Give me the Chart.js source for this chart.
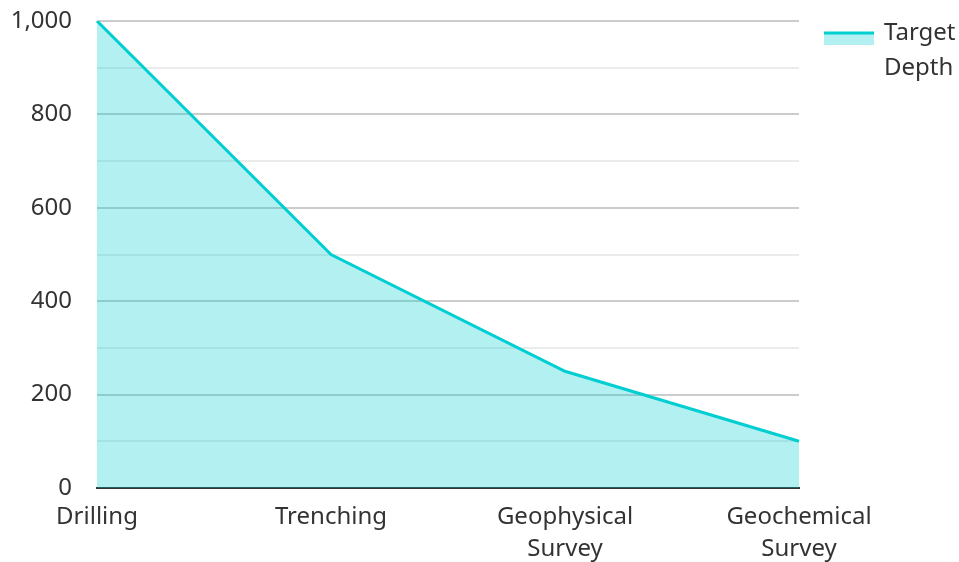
<!DOCTYPE html>
<html>
<head>
<meta charset="utf-8">
<script src="https://cdn.jsdelivr.net/npm/chart.js@4"></script>
<style>
  html, body { margin: 0; padding: 0; background: #fff; }
  #wrap { width: 959px; height: 562px; }
</style>
</head>
<body>
<div id="wrap"><canvas id="myChart"></canvas></div>
<script>
var categories = [['Drilling'], ['Trenching'], ['Geophysical', 'Survey'], ['Geochemical', 'Survey']];
var targetDepth = [1000, 500, 250, 100];
var seriesName = ['Target', 'Depth'];

var lineColor = '#00CED1';
var fillColor = 'rgba(0, 206, 209, 0.3)';
var fontFamily = '"Noto Sans", "Open Sans", sans-serif';

// legend drawn by hand so the label can wrap over two lines
var sideLegend = {
    id: 'sideLegend',
    afterDraw: function (chart) {
        var c = chart.ctx;
        var x = chart.chartArea.right + 25;
        var y = 33;
        c.save();
        c.fillStyle = fillColor;
        c.fillRect(x, y, 50, 12);
        c.strokeStyle = lineColor;
        c.lineWidth = 3;
        c.beginPath();
        c.moveTo(x, y);
        c.lineTo(x + 50, y);
        c.stroke();
        c.fillStyle = '#333';
        c.font = '24px ' + fontFamily;
        c.textBaseline = 'middle';
        seriesName.forEach(function (t, i) {
            c.fillText(t, x + 60, y + i * 35);
        });
        c.restore();
    }
};

var ctx = document.getElementById('myChart').getContext('2d');
var myChart = new Chart(ctx, {
    type: 'line',
    data: {
        labels: categories,
        datasets: [{
            label: seriesName.join(' '),
            data: targetDepth,
            borderColor: lineColor,
            backgroundColor: fillColor,
            borderWidth: 3,
            fill: 'origin',
            tension: 0,
            pointRadius: 0
        }]
    },
    options: {
        responsive: true,
        maintainAspectRatio: false,
        animation: false,
        layout: {
            autoPadding: false,
            padding: { top: 21, right: 160, left: 8, bottom: 0 }
        },
        plugins: {
            legend: { display: false },
            tooltip: { enabled: false }
        },
        scales: {
            x: {
                grid: { display: false },
                border: { display: true, color: '#333', width: 2 },
                ticks: {
                    color: '#333',
                    maxRotation: 0,
                    autoSkip: false,
                    padding: 5,
                    font: { family: fontFamily, size: 24, lineHeight: 1.33 }
                },
                afterFit: function (s) {
                    s.height = 74;
                    s.paddingLeft = 0;
                    s.paddingRight = 0;
                }
            },
            y: {
                min: 0,
                max: 1000,
                border: { display: false },
                grid: {
                    drawTicks: false,
                    lineWidth: 2,
                    color: function (c) {
                        return c.tick && c.tick.value % 200 === 0 ? '#cccccc' : '#ebebeb';
                    }
                },
                ticks: {
                    stepSize: 100,
                    color: '#333',
                    padding: 25,
                    font: { family: fontFamily, size: 24 },
                    callback: function (v) {
                        return v % 200 === 0 ? v.toLocaleString('en-US') : '';
                    }
                },
                afterFit: function (s) {
                    s.width = 89;
                    s.paddingTop = 0;
                    s.paddingBottom = 0;
                }
            }
        }
    },
    plugins: [sideLegend]
});
</script>
</body>
</html>
